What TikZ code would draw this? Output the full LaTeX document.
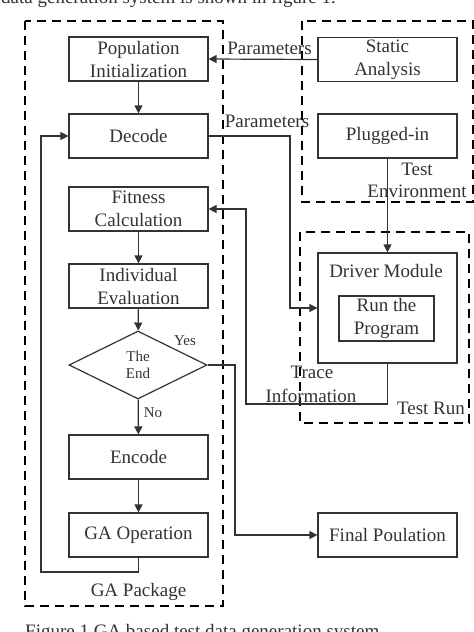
\documentclass[tikz,border=0pt]{standalone}
\usepackage{fontspec}
\setmainfont{Liberation Serif}
\usetikzlibrary{arrows.meta,shapes.geometric,calc}
\definecolor{ink}{HTML}{333333}
\tikzset{
  every node/.style={text=ink},
  big/.style={font=\fontsize{19pt}{23pt}\selectfont},
  small/.style={font=\fontsize{15pt}{17pt}\selectfont},
  box/.style={draw=ink, line width=1.2pt, minimum width=139pt, minimum height=44pt, inner sep=0pt, align=center, big},
  frame/.style={draw=black, line width=1.1pt, dash pattern=on 9pt off 6pt},
  conn/.style={draw=ink, line width=1.2pt},
  arr/.style={conn, -{Triangle[length=8pt,width=8pt]}},
  lbl/.style={big, anchor=base, inner sep=0pt},
}
\begin{document}
\begin{tikzpicture}[x=1pt,y=-1pt]
\useasboundingbox (0,0) rectangle (474,632);
\fill[white] (0,0) rectangle (474,632);

% surrounding page text (clipped)
\node[big, anchor=base west, inner sep=0pt] (toptext) at (1,3) {data generation system is shown in figure 1.};
\node[big, anchor=base west, inner sep=0pt] (caption) at (25,637) {Figure 1 GA based test data generation system};

% dashed frames
\draw[frame] (25,21) rectangle (223,606);
\draw[frame] (302,21) rectangle (473,202);
\draw[frame] (300,232) rectangle (469,423);

% GA package nodes
\node[box] (pop) at (138.5,59) {Population\\Initialization};
\node[box] (dec) at (138.5,136) {Decode};
\node[box] (fit) at (138.5,209) {Fitness\\Calculation};
\node[box] (ind) at (138.5,286) {Individual\\Evaluation};
\node[draw=ink, line width=1.2pt, shape=diamond, minimum width=138pt, minimum height=68pt, inner sep=0pt, align=center, small] (end) at (138,365) {The\\End};
\node[box] (enc) at (138.5,457) {Encode};
\node[box] (gao) at (138.5,535) {GA Operation};

% right side nodes
\node[box] (sta) at (387.5,59.5) {Static\\Analysis};
\node[box] (plg) at (387.5,136) {Plugged-in};
\node[box, minimum height=110pt] (drv) at (387.5,308) {};
\node[lbl] (drvlbl) at (386,277) {Driver Module};
\node[box, minimum width=95pt, minimum height=45pt] (run) at (386.5,318.5) {Run the\\Program};
\node[box] (fin) at (387.5,535) {Final Poulation};

% helper coordinates
\coordinate (pc) at (290,200);
\coordinate (tc) at (246,404);
\coordinate (lc) at (41,572);
\coordinate (yc) at (235,450);

% connectors
\draw[arr] (sta.west) -- (pop.east);
\draw[arr] (pop) -- (dec);
\draw[arr] (dec.east) -| (pc) |- (drv.west);
\draw[arr] (drv.south) |- (tc) |- (fit.east);
\draw[arr] (plg) -- (drv);
\draw[arr] (fit) -- (ind);
\draw[arr] (ind) -- (end);
\draw[arr] (end) -- (enc);
\draw[arr] (enc) -- (gao);
\draw[arr] (gao.south) |- (lc) |- (dec.west);
\draw[arr] (end.east) -| (yc) |- (fin.west);

% labels
\node[lbl] (par1) at (269.5,54) {Parameters};
\node[lbl] (par2) at (267,127) {Parameters};
\node[lbl] (te1) at (417,175) {Test};
\node[lbl] (te2) at (417,197) {Environment};
\node[lbl, small] (yes) at (185,345) {Yes};
\node[lbl, small] (no) at (153,417) {No};
\node[lbl] (tr1) at (312,378) {Trace};
\node[lbl] (tr2) at (311,402) {Information};
\node[lbl] (trun) at (431,414) {Test Run};
\node[lbl] (gap) at (138.5,596) {GA Package};
\end{tikzpicture}
\end{document}
